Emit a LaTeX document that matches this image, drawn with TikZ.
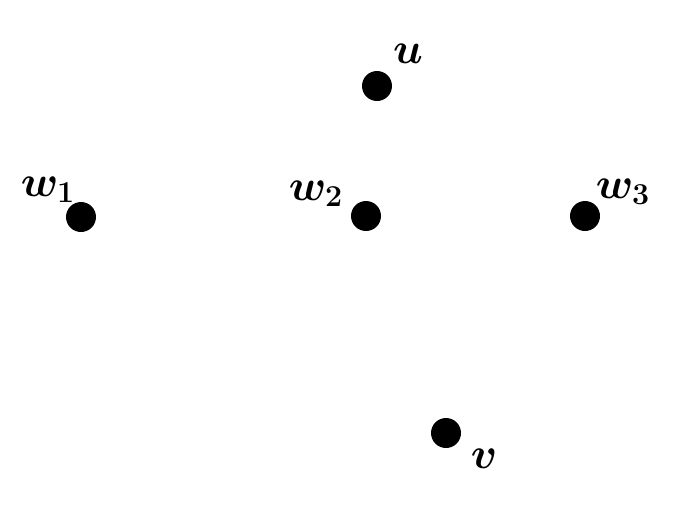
\documentclass[tikz,border=0pt]{standalone}
\tikzset{
    dot/.style={circle, fill=black, inner sep=0pt, minimum size=0.6cm},
    lbl/.style={inner sep=0pt, font=\fontsize{24}{28}\selectfont\boldmath}
}
\begin{document}
\begin{tikzpicture}[x=0.02cm, y=-0.02cm]
    \useasboundingbox (0,0) rectangle (700,518);

    \node[dot] (u) at (377,86) {};
    \node[dot] (w1) at (81,217) {};
    \node[dot] (w2) at (366,216) {};
    \node[dot] (w3) at (585,216) {};
    \node[dot] (v) at (446,433) {};

    \node[lbl] (lu) at (408,54) {$u$};
    \node[lbl] (lw1) at (48,190) {$w_1$};
    \node[lbl] (lw2) at (316,194) {$w_2$};
    \node[lbl] (lw3) at (623,192) {$w_3$};
    \node[lbl] (lv) at (484,459) {$v$};
\end{tikzpicture}
\end{document}
